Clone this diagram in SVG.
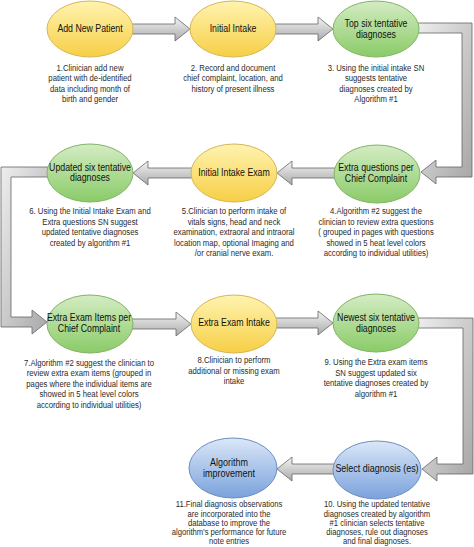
<svg xmlns="http://www.w3.org/2000/svg" width="474" height="547" viewBox="0 0 474 547">
<defs>
<linearGradient id="gy" x1="0" y1="0" x2="0" y2="1"><stop offset="0" stop-color="#fff3b0"/><stop offset="1" stop-color="#f6cf45"/></linearGradient>
<linearGradient id="gg" x1="0" y1="0" x2="0" y2="1"><stop offset="0" stop-color="#d4ecc4"/><stop offset="1" stop-color="#8acb67"/></linearGradient>
<linearGradient id="gb" x1="0" y1="0" x2="0" y2="1"><stop offset="0" stop-color="#dbe7f8"/><stop offset="1" stop-color="#7aa2dc"/></linearGradient>
<linearGradient id="ga" x1="0" y1="0" x2="0" y2="1"><stop offset="0" stop-color="#f4f4f4"/><stop offset="1" stop-color="#a9a9a9"/></linearGradient>
<linearGradient id="ge" x1="0" y1="0" x2="1" y2="1"><stop offset="0" stop-color="#eeeeee"/><stop offset="1" stop-color="#a6a6a6"/></linearGradient>
<style>
.y{fill:url(#gy);stroke:#d6b656;stroke-width:1}
.g{fill:url(#gg);stroke:#82b366;stroke-width:1}
.b{fill:url(#gb);stroke:#6c8ebf;stroke-width:1}
.a{fill:url(#ga);stroke:#666;stroke-width:0.8}
.e{fill:url(#ge);stroke:#666;stroke-width:0.8}
text{font-family:"Liberation Sans",Arial,sans-serif;text-anchor:middle}
.l{font-size:10.2px;fill:#111}
.d{font-size:9px;fill:#2a2a2a}
.s{font-size:8.7px;fill:#2a2a2a}
</style>
</defs>
<g id="connectors">
<polygon class="a" points="130,24 175,24 175,17 190,29 175,41 175,34 130,34"/>
<polygon class="a" points="274,24 318,24 318,17 333,29 318,41 318,34 274,34"/>
<polygon class="e" points="416,23 472,23 472,177 436,177 436,184 421,172 436,160 436,167 462,167 462,33 416,33"/>
<polygon class="a" points="336,168 292,168 292,161 277,173 292,185 292,178 336,178"/>
<polygon class="a" points="194,168 148,168 148,161 133,173 148,185 148,178 194,178"/>
<polygon class="e" points="50,167 1,167 1,327 32,327 32,334 47,322 32,310 32,317 11,317 11,177 50,177"/>
<polygon class="a" points="130,319 176,319 176,312 191,324 176,336 176,329 130,329"/>
<polygon class="a" points="274,318 318,318 318,311 333,323 318,335 318,328 274,328"/>
<polygon class="e" points="417,318 473,318 473,474 437,474 437,481 422,469 437,457 437,464 463,464 463,328 417,328"/>
<polygon class="a" points="336,464 292,464 292,457 277,469 292,481 292,474 336,474"/>
</g>
<g id="n1">
<ellipse class="y" cx="90" cy="29" rx="43" ry="28"/>
<g transform="translate(90,0) scale(0.86,1)">
<text class="l" y="32">Add New Patient</text>
<text class="d" y="71">1.Clinician add new</text>
<text class="d" y="81.5">patient with de-identified</text>
<text class="d" y="92">data including month of</text>
<text class="d" y="102.5">birth and gender</text>
</g>
</g>
<g id="n2">
<ellipse class="y" cx="233" cy="29" rx="43" ry="28"/>
<g transform="translate(233,0) scale(0.86,1)">
<text class="l" y="32">Initial Intake</text>
<text class="d" y="71">2. Record and document</text>
<text class="d" y="81.5">chief complaint, location, and</text>
<text class="d" y="92">history of present illness</text>
</g>
</g>
<g id="n3">
<ellipse class="g" cx="376" cy="29" rx="43" ry="28"/>
<g transform="translate(376,0) scale(0.86,1)">
<text class="l" y="27.5">Top six tentative</text>
<text class="l" y="38">diagnoses</text>
<text class="d" y="71">3. Using the initial intake SN</text>
<text class="d" y="81.5">suggests tentative</text>
<text class="d" y="92">diagnoses  created by</text>
<text class="d" y="102.5">Algorithm #1</text>
</g>
</g>
<g id="n4">
<ellipse class="g" cx="377" cy="174" rx="43" ry="29"/>
<g transform="translate(376,0) scale(0.86,1)">
<text class="l" y="171.5">Extra questions per</text>
<text class="l" y="182">Chief Complaint</text>
<text class="d" y="214.5">4.Algorithm #2 suggest the</text>
<text class="d" y="225">clinician to review extra questions</text>
<text class="d" y="235.5">( grouped in pages with questions</text>
<text class="d" y="246">showed in 5 heat level colors</text>
<text class="d" y="256.5">according to individual utilities)</text>
</g>
</g>
<g id="n5">
<ellipse class="y" cx="234" cy="173" rx="43" ry="29"/>
<g transform="translate(234,0) scale(0.86,1)">
<text class="l" y="176.5">Initial Intake Exam</text>
<text class="d" y="214.5">5.Clinician to perform intake of</text>
<text class="d" y="225">vitals signs, head and neck</text>
<text class="d" y="235.5">examination, extraoral and intraoral</text>
<text class="d" y="246">location map, optional Imaging and</text>
<text class="d" y="256.5">/or cranial nerve exam.</text>
</g>
</g>
<g id="n6">
<ellipse class="g" cx="90" cy="173" rx="43" ry="29"/>
<g transform="translate(90,0) scale(0.86,1)">
<text class="l" y="171">Updated six tentative</text>
<text class="l" y="181.5">diagnoses</text>
<text class="d" y="214.5">6. Using the Initial Intake Exam and</text>
<text class="d" y="225">Extra questions SN suggest</text>
<text class="d" y="235.5">updated tentative diagnoses</text>
<text class="d" y="246">created by algorithm #1</text>
</g>
</g>
<g id="n7">
<ellipse class="g" cx="90" cy="324" rx="43" ry="29"/>
<g transform="translate(89,0) scale(0.86,1)">
<text class="l" y="321.5">Extra Exam Items per</text>
<text class="l" y="332">Chief Complaint</text>
<text class="d" y="366">7.Algorithm #2 suggest the clinician to</text>
<text class="d" y="376.5">review extra exam items (grouped in</text>
<text class="d" y="387">pages where the individual items are</text>
<text class="d" y="397.5">showed in 5 heat level colors</text>
<text class="d" y="408">according to individual utilities)</text>
</g>
</g>
<g id="n8">
<ellipse class="y" cx="234" cy="324" rx="43" ry="29"/>
<g transform="translate(234,0) scale(0.86,1)">
<text class="l" y="326">Extra Exam Intake</text>
<text class="d" y="363.5">8.Clinician to perform</text>
<text class="d" y="374">additional or missing exam</text>
<text class="d" y="384.5">intake</text>
</g>
</g>
<g id="n9">
<ellipse class="g" cx="376" cy="323" rx="43" ry="29"/>
<g transform="translate(376,0) scale(0.86,1)">
<text class="l" y="321.5">Newest six tentative</text>
<text class="l" y="332">diagnoses</text>
<text class="d" y="365.5">9. Using the Extra exam items</text>
<text class="d" y="376">SN suggest updated six</text>
<text class="d" y="386.5">tentative diagnoses created by</text>
<text class="d" y="397">algorithm #1</text>
</g>
</g>
<g id="n10">
<ellipse class="b" cx="377" cy="470" rx="44" ry="29"/>
<g transform="translate(377,0) scale(0.88,1)">
<text class="l" y="472">Select diagnosis (es)</text>
<text class="s" y="507.5">10. Using the updated tentative</text>
<text class="s" y="516.8">diagnoses created by algorithm</text>
<text class="s" y="526.1">#1 clinician selects tentative</text>
<text class="s" y="535.4">diagnoses, rule out diagnoses</text>
<text class="s" y="544.5">and final diagnoses.</text>
</g>
</g>
<g id="n11">
<ellipse class="b" cx="233" cy="468" rx="44" ry="30"/>
<g transform="translate(229,0) scale(0.88,1)">
<text class="l" y="466.5">Algorithm</text>
<text class="l" y="477.5">improvement</text>
<text class="s" y="507.5">11.Final diagnosis observations</text>
<text class="s" y="516.8">are incorporated into the</text>
<text class="s" y="526.1">database to improve the</text>
<text class="s" y="535.4">algorithm's performance for future</text>
<text class="s" y="544.5">note entries</text>
</g>
</g>
</svg>
